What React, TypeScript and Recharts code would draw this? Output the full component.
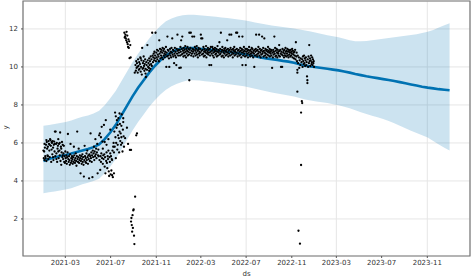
import React from "react";
import {
  ComposedChart,
  XAxis,
  YAxis,
  CartesianGrid,
  Scatter,
  Line,
  Area,
  ReferenceArea,
  Label,
} from "recharts";

/* ===== axes (x = days since 2021-01-01) ===== */
const xTicks = [59, 181, 304, 424, 546, 669, 789, 911, 1034];
const xTickLabels = [
  "2021-03", "2021-07", "2021-11", "2022-03", "2022-07",
  "2022-11", "2023-03", "2023-07", "2023-11",
];
const yTicks = [2, 4, 6, 8, 10, 12];

/* ===== forecast ===== */
const fcDays = [
  0, 15, 30, 45, 60, 75, 90, 105, 120, 135, 150, 165, 180, 195, 210, 225, 240,
  255, 270, 285, 300, 315, 330, 345, 360, 375, 390, 405, 420, 435, 450, 465,
  480, 495, 510, 525, 540, 555, 570, 585, 600, 615, 630, 645, 660, 675, 690,
  705, 720, 735, 750, 765, 780, 795, 810, 825, 840, 855, 870, 885, 900, 915,
  930, 945, 960, 975, 990, 1005, 1020, 1035, 1050, 1065, 1080, 1094,
];
const fcYhat = [
  5.05, 5.15, 5.24, 5.31, 5.37, 5.44, 5.52, 5.6, 5.68, 5.78, 5.92, 6.2, 6.55,
  6.95, 7.45, 7.95, 8.45, 8.9, 9.3, 9.7, 10.05, 10.35, 10.6, 10.78, 10.9,
  10.98, 11.0, 10.99, 10.96, 10.93, 10.9, 10.87, 10.83, 10.8, 10.76, 10.72,
  10.68, 10.62, 10.56, 10.5, 10.45, 10.41, 10.37, 10.32, 10.28, 10.22, 10.14,
  10.07, 10.02, 9.98, 9.94, 9.9, 9.86, 9.82, 9.76, 9.7, 9.63, 9.57, 9.51, 9.46,
  9.41, 9.36, 9.31, 9.26, 9.2, 9.14, 9.08, 9.02, 8.96, 8.91, 8.87, 8.83, 8.8,
  8.77,
];
const fcLower = [
  3.35, 3.4, 3.45, 3.5, 3.55, 3.62, 3.72, 3.82, 3.9, 4.0, 4.12, 4.4, 4.75,
  5.15, 5.65, 6.15, 6.65, 7.1, 7.5, 7.9, 8.25, 8.55, 8.8, 8.98, 9.12, 9.22,
  9.3, 9.3, 9.28, 9.25, 9.22, 9.18, 9.14, 9.1, 9.06, 9.02, 8.98, 8.92, 8.85,
  8.78, 8.72, 8.66, 8.6, 8.55, 8.5, 8.44, 8.36, 8.29, 8.23, 8.18, 8.14, 8.1,
  8.04, 7.98, 7.9, 7.82, 7.72, 7.62, 7.52, 7.43, 7.35, 7.26, 7.15, 7.03, 6.9,
  6.77, 6.64, 6.52, 6.4, 6.28, 6.1, 5.92, 5.75, 5.6,
];
const fcUpper = [
  6.9, 6.95, 7.0, 7.05, 7.1, 7.18, 7.28, 7.38, 7.45, 7.55, 7.7, 7.98, 8.35,
  8.75, 9.25, 9.75, 10.25, 10.7, 11.1, 11.5, 11.85, 12.15, 12.4, 12.55, 12.65,
  12.72, 12.75, 12.75, 12.72, 12.7, 12.67, 12.64, 12.6, 12.57, 12.53, 12.5,
  12.46, 12.4, 12.34, 12.28, 12.23, 12.18, 12.14, 12.1, 12.06, 12.02, 11.97,
  11.92, 11.87, 11.8, 11.73, 11.67, 11.62, 11.56, 11.48, 11.4, 11.35, 11.35,
  11.37, 11.4, 11.44, 11.48, 11.52, 11.56, 11.6, 11.64, 11.68, 11.72, 11.78,
  11.85, 11.95, 12.07, 12.2, 12.3,
];

/* ===== observed, one value per day ===== */
// days 0..180
const obs2021H1 = [
  5.6, 5.2, 5.55, 5.1, 5.75, 5.3, 5.2, 5.9, 5.05, 6.05,
  5.7, 5.35, 5.8, 5.15, 6.1, 5.95, 5.6, 5.25, 6.2, 6.15,
  5.85, 5.0, 5.65, 6.0, 5.4, 6.1, 5.75, 5.1, 5.9, 6.07,
  5.55, 6.6, 5.3, 6.6, 5.95, 5.45, 6.0, 5.0, 5.7, 5.85,
  6.2, 5.2, 5.95, 5.6, 5.35, 6.55, 5.05, 5.8, 4.85, 5.5,
  6.05, 5.25, 5.9, 5.15, 5.45, 5.85, 5.0, 5.3, 4.95, 5.55,
  5.2, 5.05, 5.35, 4.9, 5.25, 5.5, 6.47, 5.15, 5.0, 5.3,
  5.1, 4.85, 5.4, 5.95, 4.95, 5.2, 5.05, 5.3, 5.15, 4.9,
  5.25, 5.0, 5.8, 5.35, 5.1, 4.95, 5.2, 5.45, 5.05, 4.8,
  5.3, 6.6, 5.15, 5.0, 5.25, 5.7, 4.95, 5.1, 5.35, 5.2,
  4.4, 5.05, 5.3, 4.9, 5.15, 5.4, 5.0, 5.25, 4.85, 4.23,
  5.1, 5.85, 5.3, 5.0, 5.2, 4.95, 5.45, 5.1, 5.6, 5.25,
  4.9, 5.35, 5.15, 4.14, 5.4, 5.05, 5.3, 6.5, 5.2, 5.5,
  5.0, 5.35, 4.2, 5.6, 5.25, 5.45, 5.8, 5.1, 5.55, 5.3,
  6.2, 5.4, 5.7, 5.2, 5.5, 5.95, 4.4, 5.35, 5.65, 5.3,
  6.4, 5.1, 6.5, 4.58, 5.3, 5.0, 5.45, 6.85, 5.2, 6.07,
  4.9, 5.35, 5.15, 6.95, 5.4, 4.75, 5.25, 4.4, 7.2, 5.05,
  5.5, 4.95, 4.67, 5.3, 5.15, 5.6, 4.5, 4.26, 5.25, 5.0,
  5.45,
];
// days 181..364
const obs2021H2 = [
  4.35, 5.3, 4.55, 5.15, 4.3, 5.6, 4.2, 5.8, 6.0, 5.5,
  6.6, 5.8, 7.6, 6.3, 7.4, 6.0, 6.8, 7.2, 5.65, 6.95,
  6.4, 7.3, 6.25, 5.5, 6.6, 7.0, 6.1, 6.5, 5.9, 6.3,
  7.5, 6.0, 5.55, 6.7, 7.1, 6.35, 5.8,
  11.8, 11.55, 11.6, 11.7, 11.5, 11.4, 11.85, 11.3, 11.65, 11.2, 11.05, 11.45, 11.0, 11.35,
  10.46, 5.63, 11.15, 10.5,
  1.86, 2.05, 1.68, 1.33, 2.2, 1.53, 2.45, 2.5, 1.12, 0.68, 9.7, 3.17,
  10.1, 9.8, 10.3, 9.95, 10.2, 10.0, 9.7, 10.4, 10.05, 9.85,
  10.25, 9.9, 10.15, 10.5, 9.75, 10.0, 10.35, 9.6, 11.0, 9.9,
  10.2, 9.95, 10.3, 10.05, 9.8, 10.15, 10.4, 9.9, 9.47, 10.25,
  10.1, 9.85, 11.15, 10.35, 10.0, 10.2, 9.95, 10.45, 10.1, 10.3,
  9.9, 10.55, 10.15, 10.4, 10.05, 11.8, 10.6, 10.25, 10.5, 10.7,
  10.35, 10.8, 10.45, 10.6, 11.8, 10.3, 10.75, 10.5, 10.9, 10.4,
  10.65, 10.85, 10.55, 10.3, 11.4, 10.7, 10.95, 10.45, 10.8, 10.6,
  10.9, 10.5, 10.75, 11.0, 10.4, 10.85, 10.6, 10.95, 10.7, 10.5,
  10.8, 10.65, 11.05, 10.0, 10.75, 10.55, 11.6, 10.9, 10.6, 10.85,
  10.45, 10.0, 10.7, 10.95, 10.6, 10.8, 10.5, 11.0, 10.75, 11.5,
  10.65, 10.9, 10.55, 10.85, 10.2, 10.7, 11.0, 10.6, 10.8, 10.5,
  10.1, 10.95, 10.7, 11.7, 10.85, 10.6, 10.9,
];
// days 365..545
const obs2022H1 = [
  10.75, 9.95, 10.9, 10.6, 11.05, 10.8, 11.4, 10.65, 10.95, 11.6,
  10.7, 10.85, 10.55, 11.0, 10.75, 10.9, 10.6, 11.1, 10.8, 10.5,
  10.95, 10.7, 10.85, 11.05, 10.6, 10.8, 10.95, 10.65, 9.3, 10.9,
  10.75, 11.0, 11.8, 10.6, 10.85, 10.7, 11.6, 10.95, 10.8, 10.55,
  10.9, 11.6, 10.7, 11.05, 10.85, 10.6, 10.95, 10.75, 11.1, 10.65,
  10.85, 10.5, 10.9, 11.0, 10.7, 10.8, 10.6, 10.95, 10.75, 11.7,
  11.5, 10.85, 10.65, 11.5, 10.9, 10.7, 11.05, 10.55, 10.8, 10.95,
  10.6, 10.85, 10.75, 11.1, 10.5, 10.9, 10.7, 10.8, 11.0, 10.65,
  10.9, 10.75, 10.1, 10.95, 10.6, 10.8, 11.05, 10.1, 10.7, 10.85,
  11.05, 10.6, 10.95, 10.75, 10.5, 10.9, 10.8, 11.0, 10.65, 10.85,
  10.7, 10.95, 10.55, 10.8, 11.1, 10.6, 10.9, 10.75, 10.85, 11.3,
  10.65, 10.95, 10.7, 11.8, 10.8, 10.55, 10.9, 11.05, 10.6, 10.85,
  10.75, 10.5, 10.95, 10.7, 10.85, 11.0, 10.6, 10.8, 10.9, 10.65,
  11.4, 10.75, 10.95, 10.55, 10.85, 10.7, 11.7, 10.9, 10.6, 11.0,
  10.8, 11.7, 10.65, 10.9, 10.75, 10.5, 10.95, 10.7, 10.85, 11.05,
  10.6, 10.8, 10.9, 10.65, 11.8, 10.75, 10.95, 11.8, 10.55, 10.85,
  10.7, 10.9, 11.6, 10.6, 10.8, 11.0, 10.65, 10.85, 10.5, 10.95,
  10.75, 11.6, 10.9, 10.6, 10.8, 11.05, 10.7, 10.85, 10.55, 10.95,
  10.1,
];
// days 546..729
const obs2022H2 = [
  10.8, 10.6, 10.95, 10.7, 10.85, 10.5, 10.9, 10.75, 11.05, 10.65,
  10.85, 10.55, 10.9, 10.7, 10.8, 11.0, 10.6, 10.95, 10.75, 10.5,
  10.85, 10.7, 10.0, 10.9, 10.6, 10.8, 10.95, 11.7, 10.65, 10.85,
  10.55, 10.9, 10.7, 11.05, 10.8, 11.7, 10.6, 10.95, 10.75, 10.5,
  10.85, 10.65, 10.9, 11.6, 10.7, 10.8, 11.0, 10.55, 10.85, 11.5,
  10.75, 10.6, 10.95, 10.7, 10.85, 10.5, 10.9, 10.65, 10.8, 11.05,
  10.6, 10.85, 10.75, 10.95, 10.55, 10.8, 10.7, 10.9, 10.6, 10.85,
  9.95, 10.75, 10.5, 10.9, 10.65, 10.8, 11.6, 10.7, 11.0, 10.55,
  10.85, 10.6, 10.95, 10.75, 10.5, 10.9, 10.7, 10.8, 10.6, 11.15,
  10.85, 10.55, 10.9, 10.7, 10.0, 10.8, 10.65, 10.0, 10.95, 10.6,
  10.75, 10.85, 10.5, 10.9, 10.7, 10.6, 11.0, 10.8, 10.55, 10.85,
  10.7, 10.95, 10.6, 10.8, 10.5, 10.9, 10.65, 10.85, 10.75, 10.55,
  10.9, 10.6, 10.8, 10.7, 10.95, 10.5, 10.85, 10.65, 10.75, 10.45,
  10.8, 10.6, 10.9, 10.4, 11.3, 10.55, 10.75, 10.3, 9.85, 10.6,
  10.2, 1.38, 10.5, 9.95, 10.35, 0.7, 10.1, 10.45, 4.84, 10.25,
  8.2, 10.4, 10.0, 10.55, 10.3, 10.15, 10.6, 10.2, 10.45, 10.05,
  10.35, 10.5, 10.1, 10.25, 9.5, 9.3, 10.4, 10.0, 10.55, 10.2,
  11.15, 10.3, 10.45, 10.05, 10.35, 10.6, 10.15, 10.25, 10.5, 10.1,
  10.4, 10.2, 10.3, 10.0,
];
// second readings on some days: [day, value]
const obsExtra: [number, number][] = [
  [3, 5.95], [8, 6.15], [12, 5.3], [17, 5.9], [22, 6.05], [26, 5.25],
  [30, 5.95], [35, 5.15], [40, 5.55], [44, 6.0], [48, 5.7], [52, 5.35],
  [155, 6.3], [160, 5.7], [165, 6.05], [170, 5.9], [175, 6.2], [180, 6.7],
  [185, 5.1], [190, 4.4], [195, 5.2], [200, 5.9], [205, 7.55], [210, 6.9],
  [215, 7.3], [220, 6.25], [225, 6.8], [228, 5.95], [236, 5.63], [250, 6.4],
  [252, 6.5], [262, 10.45], [270, 10.55], [275, 9.65], [285, 9.8],
  [370, 9.96], [393, 11.8], [536, 10.1], [684, 9.7], [684, 8.7], [694, 7.6],
  [697, 8.1], [711, 9.15],
];

const dailyObs = [...obs2021H1, ...obs2021H2, ...obs2022H1, ...obs2022H2];
const obsData = [
  ...dailyObs.map((v, i) => ({ t: i, v })),
  ...obsExtra.map(([t, v]) => ({ t, v })),
];
const fcData = fcDays.map((t, i) => ({
  t,
  yhat: fcYhat[i],
  band: [fcLower[i], fcUpper[i]],
}));

const X_DOMAIN: [number, number] = [-55, 1149];
const Y_DOMAIN: [number, number] = [0.05, 13.47];
const FONT = "DejaVu Sans";
const tickStyle = { fontSize: 7, fill: "#333", fontFamily: FONT };

const Dot = (p: any) => <circle cx={p.cx} cy={p.cy} r={1.15} fill="#000" />;

/* axis titles drawn as plain text inside the axis box */
const XTitle = ({ viewBox }: any) => (
  <text
    x={viewBox.x + viewBox.width / 2}
    y={viewBox.y + viewBox.height - 4}
    textAnchor="middle"
    fontSize={7}
    fontFamily={FONT}
    fill="#333"
  >
    ds
  </text>
);

const YTitle = ({ viewBox }: any) => {
  const x = viewBox.x + 6;
  const y = viewBox.y + viewBox.height / 2 - 1;
  return (
    <text
      x={x}
      y={y}
      transform={`rotate(-90, ${x}, ${y})`}
      textAnchor="middle"
      dominantBaseline="central"
      fontSize={7}
      fontFamily={FONT}
      fill="#333"
    >
      y
    </text>
  );
};

export default function App() {
  return (
    <div style={{ position: "absolute", left: 0, top: 0, background: "#fff" }}>
      <ComposedChart
        width={474}
        height={280}
        margin={{ top: 1, right: 4, bottom: 0, left: 0 }}
      >
        <CartesianGrid stroke="#e6e6e6" strokeWidth={1} />
        <XAxis
          dataKey="t"
          type="number"
          domain={X_DOMAIN}
          allowDataOverflow
          ticks={xTicks}
          tickFormatter={(v) => xTickLabels[xTicks.indexOf(v)] ?? ""}
          tick={tickStyle}
          tickSize={2}
          tickMargin={2}
          height={24}
          axisLine={false}
          tickLine={{ stroke: "#555" }}
        >
          <Label content={XTitle} />
        </XAxis>
        <YAxis
          type="number"
          domain={Y_DOMAIN}
          allowDataOverflow
          ticks={yTicks}
          tick={tickStyle}
          tickSize={2}
          tickMargin={3}
          width={23}
          axisLine={false}
          tickLine={{ stroke: "#555" }}
        >
          <Label content={YTitle} />
        </YAxis>
        <Scatter
          data={obsData}
          dataKey="v"
          shape={Dot}
          isAnimationActive={false}
        />
        <Line
          data={fcData}
          dataKey="yhat"
          stroke="#0072B2"
          strokeWidth={2.6}
          dot={false}
          isAnimationActive={false}
        />
        <Area
          data={fcData}
          dataKey="band"
          stroke="none"
          fill="#0072B2"
          fillOpacity={0.2}
          isAnimationActive={false}
        />
        <ReferenceArea
          x1={X_DOMAIN[0]}
          x2={X_DOMAIN[1]}
          y1={Y_DOMAIN[0]}
          y2={Y_DOMAIN[1]}
          fill="none"
          stroke="#777"
          strokeWidth={1.2}
        />
      </ComposedChart>
    </div>
  );
}
